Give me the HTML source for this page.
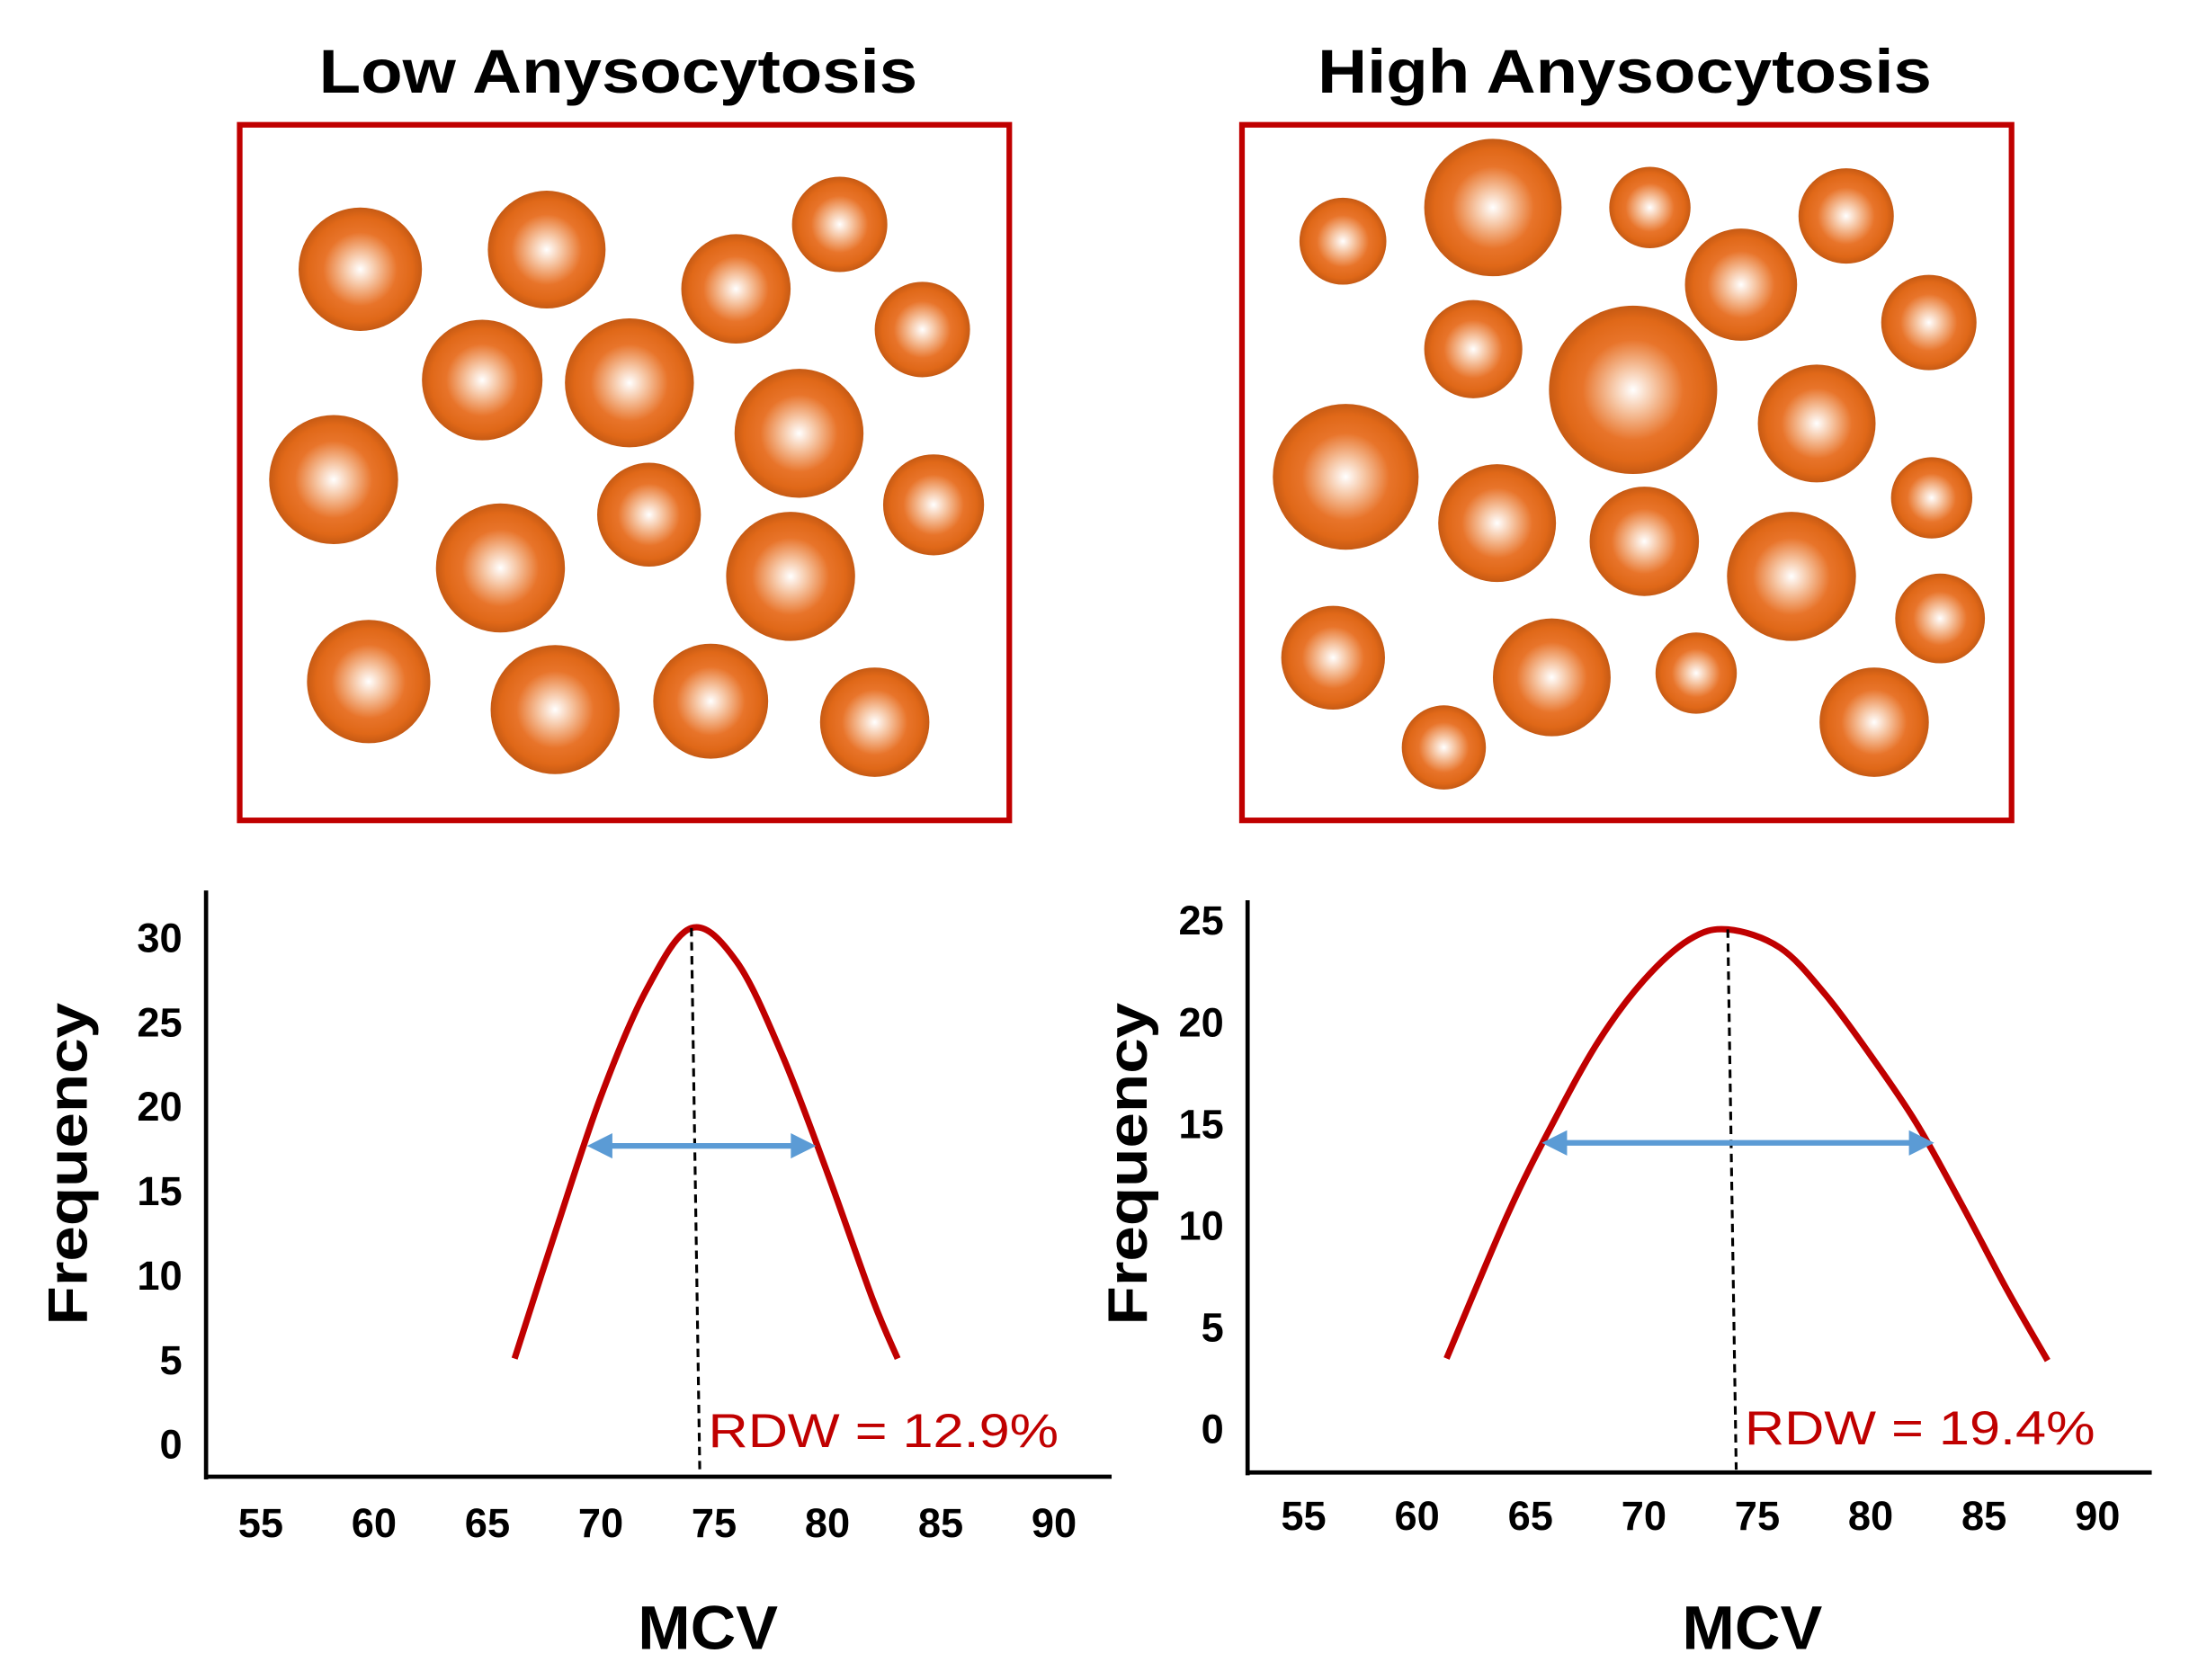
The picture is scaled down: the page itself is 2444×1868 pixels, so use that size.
<!DOCTYPE html>
<html><head><meta charset="utf-8">
<style>
html,body{margin:0;padding:0;background:#fff;}
svg{display:block;}
text{font-family:"Liberation Sans",sans-serif;}
</style></head>
<body>
<svg id="fig" width="2444" height="1868" viewBox="0 0 1568 1198" preserveAspectRatio="none" xmlns="http://www.w3.org/2000/svg">
<defs>
<radialGradient id="rbc" cx="50%" cy="50%" r="50%">
<stop offset="0" stop-color="#ffffff"/>
<stop offset="0.25" stop-color="#f6c7a6"/>
<stop offset="0.6" stop-color="#e8742a"/>
<stop offset="0.85" stop-color="#e06818"/>
<stop offset="1" stop-color="#c65a14"/>
</radialGradient>
</defs>
<text x="441" y="66" text-anchor="middle" font-size="44" font-weight="bold" textLength="427" lengthAdjust="spacingAndGlyphs">Low Anysocytosis</text>
<text x="1159" y="66" text-anchor="middle" font-size="44" font-weight="bold" textLength="438" lengthAdjust="spacingAndGlyphs">High Anysocytosis</text>
<rect x="171" y="89" width="549" height="496" fill="none" stroke="#c00000" stroke-width="4"/>
<rect x="886" y="89" width="549" height="496" fill="none" stroke="#c00000" stroke-width="4"/>
<g id="cells"></g>
<g id="charts"></g>
</svg>
<script>
const NS="http://www.w3.org/2000/svg";
const lowCells=[[257,192,44],[390,178,42],[525,206,39],[599,160,34],[658,235,34],[344,271,43],[449,273,46],[570,309,46],[238,342,46],[463,367,37],[666,360,36],[357,405,46],[564,411,46],[263,486,44],[396,506,46],[507,500,41],[624,515,39]];
const highCells=[[958,172,31],[1065,148,49],[1177,148,29],[1317,154,34],[1242,203,40],[1376,230,34],[1051,249,35],[1165,278,60],[1296,302,42],[960,340,52],[1068,373,42],[1173,386,39],[1278,411,46],[1378,355,29],[951,469,37],[1107,483,42],[1210,480,29],[1384,441,32],[1030,533,30],[1337,515,39]];

// chart data
const xTicks=[55,60,65,70,75,80,85,90];
const lowYTicks=[0,5,10,15,20,25,30];
const highYTicks=[0,5,10,15,20,25];
const lowMCV=[66.2,68,70,72,74,76,78,80,82,83.1];
const lowFreq=[5,12.5,20.5,26.8,30.5,28.5,23,16,8.5,5];
const highMCV=[61.3,64,66,68,70,72,73.7,76,78,80,82,84,86,87.8];
const highFreq=[3.4,10.5,15,19,22,24,24.5,23.6,21.3,18.3,15,11,6.8,3.3];
const lowMean=[74.0];
const highMean=[73.7];
const lowArrow=[69.4,79.5,17.6];
const highArrow=[65.5,82.8,14.0];
const lowRDW=["RDW = 12.9%"];
const highRDW=["RDW = 19.4%"];

const cg=document.getElementById('cells');
function drawCells(list,prefix){
  list.forEach((c,i)=>{
    const e=document.createElementNS(NS,'circle');
    e.setAttribute('cx',c[0]);e.setAttribute('cy',c[1]);e.setAttribute('r',c[2]);
    e.setAttribute('fill','url(#rbc)');
    
    
    cg.appendChild(e);
  });
}
drawCells(lowCells,'low');drawCells(highCells,'high');

const ch=document.getElementById('charts');
function mk(tag,attrs,parent){const e=document.createElementNS(NS,tag);for(const k in attrs)e.setAttribute(k,attrs[k]);(parent||ch).appendChild(e);return e;}

function chart(cfg){
  const g=mk('g',{});
  
  
  const X=v=>cfg.x55+(v-55)*cfg.xs;
  const Y=f=>cfg.y0-f*cfg.ys;
  let e=mk('line',{x1:cfg.ax,y1:cfg.axTop,x2:cfg.ax,y2:cfg.axY+2,stroke:'#000','stroke-width':3},g);
  
  
  e=mk('line',{x1:cfg.ax-1,y1:cfg.axY,x2:cfg.axRight,y2:cfg.axY,stroke:'#000','stroke-width':3},g);
  
  
  xTicks.forEach(v=>{
    const t=mk('text',{x:X(v),y:cfg.xLabY,'text-anchor':'middle','font-size':29,'font-weight':'bold'},g);
    t.textContent=v;
    
    
  });
  cfg.yTicks.forEach(v=>{
    const t=mk('text',{x:cfg.ax-17,y:Y(v)+11,'text-anchor':'end','font-size':29,'font-weight':'bold'},g);
    t.textContent=v;
    
    
  });
  let yt=mk('text',{x:0,y:0,'text-anchor':'middle','font-size':40,'font-weight':'bold',transform:`translate(${cfg.ytX},830) rotate(-90)`,textLength:230,lengthAdjust:'spacingAndGlyphs'},g);
  yt.textContent='Frequency';
  
  
  let xt=mk('text',{x:cfg.xtX,y:1176,'text-anchor':'middle','font-size':44,'font-weight':'bold',textLength:100,lengthAdjust:'spacingAndGlyphs'},g);
  xt.textContent='MCV';
  
  
  const pts=cfg.mcv.map((m,i)=>[X(m),Y(cfg.freq[i])]);
  let d='M'+pts[0][0]+','+pts[0][1];
  for(let i=0;i<pts.length-1;i++){
    const p0=pts[Math.max(0,i-1)],p1=pts[i],p2=pts[i+1],p3=pts[Math.min(pts.length-1,i+2)];
    const c1=[p1[0]+(p2[0]-p0[0])/6,p1[1]+(p2[1]-p0[1])/6];
    const c2=[p2[0]-(p3[0]-p1[0])/6,p2[1]-(p3[1]-p1[1])/6];
    d+=` C${c1[0]},${c1[1]} ${c2[0]},${c2[1]} ${p2[0]},${p2[1]}`;
  }
  const cv=mk('path',{d:d,fill:'none',stroke:'#c00000','stroke-width':4.5},g);
  
  
  const mx=X(cfg.mean[0]);
  const ml=mk('line',{x1:mx,y1:Y(Math.max(...cfg.freq)),x2:mx+6,y2:cfg.axY-2,stroke:'#000','stroke-width':2,'stroke-dasharray':'6,4'},g);
  
  
  const ax1=X(cfg.arrow[0]),ax2=X(cfg.arrow[1]),ay=Y(cfg.arrow[2]);
  const ar=mk('g',{},g);
  
  
  mk('line',{x1:ax1+14,y1:ay,x2:ax2-14,y2:ay,stroke:'#5b9bd5','stroke-width':4},ar);
  mk('polygon',{points:`${ax1},${ay} ${ax1+18},${ay-9} ${ax1+18},${ay+9}`,fill:'#5b9bd5'},ar);
  mk('polygon',{points:`${ax2},${ay} ${ax2-18},${ay-9} ${ax2-18},${ay+9}`,fill:'#5b9bd5'},ar);
  const rt=mk('text',{x:mx+12,y:cfg.rdwY,'font-size':34,fill:'#c00000',textLength:250,lengthAdjust:'spacingAndGlyphs'},g);
  rt.textContent=cfg.rdw[0];
  
  
}
chart({name:'low-mcv-chart',x55:186,xs:16.17,y0:1029,ys:12.04,ax:147,axTop:635,axY:1053,axRight:793,xLabY:1096,ytX:62,xtX:505,
  yTicks:lowYTicks,mcv:lowMCV,freq:lowFreq,mean:lowMean,arrow:lowArrow,rdw:lowRDW,rdwY:1032});
chart({name:'high-mcv-chart',x55:930,xs:16.18,y0:1018,ys:14.5,ax:890,axTop:642,axY:1050,axRight:1535,xLabY:1091,ytX:818,xtX:1250,
  yTicks:highYTicks,mcv:highMCV,freq:highFreq,mean:highMean,arrow:highArrow,rdw:highRDW,rdwY:1030});
</script>
</body></html>
